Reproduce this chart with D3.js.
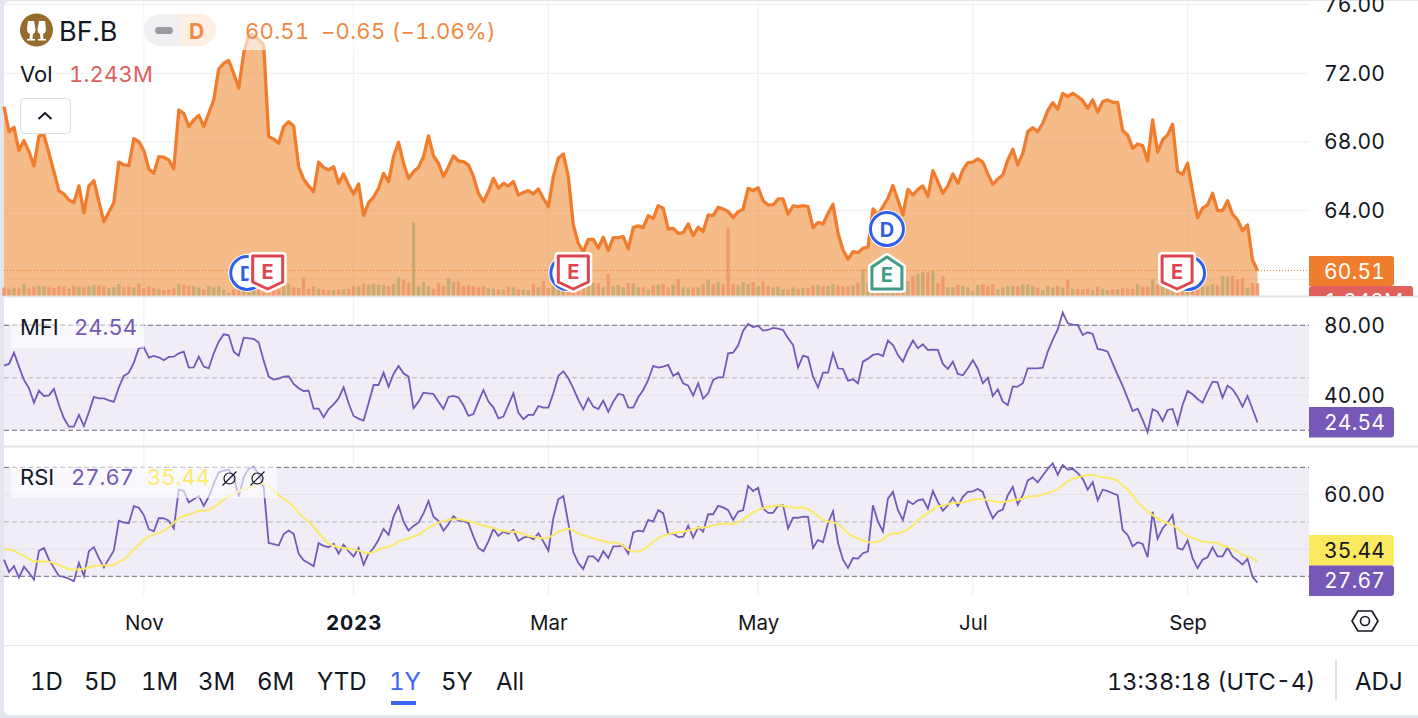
<!DOCTYPE html>
<html>
<head>
<meta charset="utf-8">
<script src="https://cdn.jsdelivr.net/npm/d3@7"></script>
<style>
  html, body { margin: 0; background: #fff; }
  svg { display: block; font-family: Inter, sans-serif; font-variant-numeric: tabular-nums; font-feature-settings: "tnum"; color: #131722; }
  .domain { display: none; }
</style>
</head>
<body>
<div id="chart"></div>
<script>
const closes = [
  70.06,68.60,68.85,67.50,68.08,67.44,66.60,68.35,68.41,67.34,
  66.27,65.15,64.97,64.62,64.47,65.44,63.88,65.44,65.75,64.52,
  63.36,63.90,64.47,66.83,66.66,66.62,68.19,68.02,67.50,66.43,
  66.17,67.15,67.11,66.95,66.43,69.86,69.67,68.89,69.28,69.55,
  68.89,69.67,70.45,72.25,72.58,72.74,72.00,71.13,73.17,74.23,
  74.23,73.94,73.65,68.31,68.17,67.92,68.89,69.18,68.93,66.56,
  65.83,65.44,65.09,66.82,66.52,66.37,66.56,65.59,66.14,65.50,
  64.97,65.55,63.71,64.47,64.78,65.30,66.17,65.69,67.15,67.98,
  66.76,65.88,66.27,66.52,67.15,68.35,67.18,66.76,65.98,66.56,
  67.18,66.89,66.85,66.66,65.98,65.01,64.52,65.11,65.88,65.30,
  65.59,65.44,65.69,64.91,65.05,65.17,64.97,65.26,64.72,64.23,
  65.98,67.05,67.30,65.98,63.17,62.10,61.61,62.33,62.33,61.81,
  62.45,61.67,62.43,62.43,62.49,61.77,63.01,63.11,63.01,63.71,
  63.55,64.29,64.14,62.93,62.97,62.68,62.72,63.22,62.54,63.03,
  62.78,63.75,63.71,64.19,64.10,63.94,63.59,63.94,64.08,65.30,
  65.17,65.34,64.58,64.33,64.33,64.68,64.68,63.79,64.27,64.23,
  64.29,64.23,63.01,63.32,63.22,63.84,64.37,62.68,61.71,61.17,
  61.61,61.55,61.81,61.86,64.10,63.75,64.23,64.72,65.46,64.62,
  63.75,65.24,64.91,65.24,65.44,64.82,66.33,65.69,65.01,65.44,
  66.14,65.59,66.37,66.80,66.82,67.01,
  66.82,66.14,65.53,65.84,66.08,66.95,67.57,66.66,67.34,68.60,
  68.83,68.60,69.09,69.83,70.29,69.90,70.83,70.64,70.83,70.64,
  70.41,69.96,70.45,69.73,70.35,70.45,70.31,70.31,68.66,68.41,
  67.63,67.88,67.79,66.89,69.28,67.40,68.12,68.41,69.03,66.27,
  66.12,66.76,65.11,63.59,64.14,64.33,65.01,64.00,64.00,64.58,
  63.79,63.46,62.83,63.17,61.13,60.51
];

const volumes = [
  .82,.72,.82,.72,1.18,.72,.92,.98,.98,.85,
  .78,.98,.92,.72,.98,.92,.85,.98,1.05,1.05,
  .92,.78,.85,1.18,.85,.92,.85,1.24,.72,.92,
  .78,.72,.59,.65,.78,1.18,1.11,.98,.98,.85,
  .65,.98,.85,.98,.65,.33,.65,.82,.72,.65,
  .65,.72,.72,.98,.98,.65,.98,1.18,.85,.78,
  1.83,.72,.98,.72,.65,.59,.59,.65,.65,.72,
  .98,.98,1.24,1.11,1.18,1.11,1.05,.98,1.18,1.83,
  1.57,1.31,7.19,.98,1.37,.98,.72,1.24,.98,1.77,
  1.37,1.44,.98,1.05,.98,.85,.98,.78,.72,.65,
  .65,.92,.85,.65,.65,.59,1.18,.85,1.47,.78,
  .98,.85,.85,.72,.72,.85,.98,1.18,1.31,1.24,
  .85,2.16,.98,1.05,.85,1.24,1.24,.85,.85,.65,
  1.05,1.11,1.18,.85,1.11,1.64,.85,.72,.85,.85,
  1.18,1.57,1.18,1.37,1.18,6.70,1.18,1.05,1.37,1.18,
  1.37,.98,1.44,.98,.82,.92,.65,.65,.85,.72,
  .78,.78,1.05,1.05,.98,.98,1.18,1.05,.92,.92,
  1.05,1.31,2.62,1.31,.98,.98,.82,.72,.65,.65,
  .92,1.47,1.96,2.16,2.35,2.29,2.49,1.24,1.96,.85,
  .85,1.11,.98,.85,.46,1.05,
  1.14,.98,1.14,.65,.82,.98,.98,.98,1.14,1.14,
  .98,.82,.59,.98,.82,.98,.82,1.57,.72,.72,
  .65,.72,.59,.92,.72,.59,.65,.65,.78,.72,
  .72,1.18,.92,.92,1.64,1.14,.98,.82,.72,.65,
  .82,.92,.85,.85,.92,.98,1.14,1.05,1.96,1.90,
  1.96,1.64,1.77,.82,1.24,1.243
];

const mfi = [
  56.95,57.90,64.38,56.38,48.76,44.00,35.81,42.67,39.62,40.00,
  43.62,34.48,26.86,22.10,22.10,28.76,22.48,30.29,39.05,38.29,
  38.29,37.14,36.19,44.57,51.05,52.95,58.67,66.86,67.43,61.52,
  62.48,61.71,60.00,61.90,62.10,64.00,64.95,55.81,56.00,62.10,
  56.38,55.43,64.00,70.67,74.86,74.29,64.95,62.67,72.95,72.57,
  72.19,70.10,59.81,50.67,48.95,49.52,50.67,50.86,46.48,44.00,
  42.48,42.67,32.38,32.38,27.43,32.19,34.86,38.29,44.57,35.43,
  28.19,26.67,25.52,35.43,45.90,45.90,52.95,44.95,52.19,56.76,
  52.57,50.67,32.57,36.38,41.52,41.14,40.76,36.38,32.19,39.05,
  39.62,38.67,34.29,28.19,29.33,36.38,43.05,36.38,33.14,26.86,
  27.81,34.48,41.14,30.10,26.29,28.76,28.76,33.90,32.95,32.95,
  41.14,51.05,53.71,49.71,44.00,37.33,32.00,38.29,33.52,32.19,
  36.95,30.48,36.38,40.76,40.19,32.95,32.95,38.86,43.05,48.76,
  56.76,55.81,56.38,57.33,51.05,52.95,46.86,45.52,39.81,46.86,
  38.10,41.14,48.76,50.29,50.29,64.00,64.38,68.38,76.95,80.76,
  79.05,79.62,76.95,77.33,78.48,78.10,77.33,72.57,68.76,55.81,
  62.67,61.71,50.67,44.57,52.95,52.95,64.00,55.43,55.05,48.38,
  49.14,46.86,59.24,60.95,63.05,63.62,62.48,71.24,68.76,63.05,
  59.24,65.90,71.24,66.86,69.14,65.90,66.10,65.90,57.90,55.05,
  59.24,52.19,51.43,55.43,60.19,55.05,46.86,50.10,39.62,43.43,
  36.38,34.48,44.95,44.95,46.86,55.43,55.43,55.43,55.81,64.95,
  71.62,77.71,87.24,81.14,80.38,80.19,74.48,76.00,75.05,66.48,
  65.90,64.95,58.29,51.62,45.33,38.29,31.05,32.38,25.90,18.86,
  32.00,30.67,25.33,31.62,32.19,23.43,34.48,42.48,40.57,37.90,
  35.81,42.10,47.81,47.43,38.67,45.52,43.43,39.24,33.52,39.62,
  32.19,24.54
];

const rsi = [
  36.1,31.6,33.7,29.5,33.5,31.3,28.8,39.4,40.4,36.1,
  33.1,30.1,29.8,29.1,28.2,34.9,30.1,39.2,40.7,36.7,
  33.3,36.4,39.5,50.4,49.7,49.5,55.8,55.2,52.5,47.3,
  46.5,51.4,51.3,50.4,47.6,61.9,61.3,57.1,58.3,59.5,
  55.9,59.2,64.0,68.2,68.8,69.2,66.4,59.2,66.4,69.5,
  70.1,67.6,62.8,42.2,41.8,41.3,45.5,46.8,45.6,38.3,
  35.9,34.9,33.7,42.2,41.2,40.7,41.9,38.3,41.6,39.2,
  37.3,40.4,34.3,38.3,40.4,43.4,47.4,45.2,51.9,55.9,
  50.1,46.8,48.5,49.7,53.1,57.6,51.9,50.4,46.7,49.1,
  52.1,50.4,50.4,49.5,44.6,40.4,39.2,42.8,47.4,44.8,
  46.4,45.6,47.0,43.0,44.2,44.6,43.6,45.8,42.8,39.4,
  51.3,58.3,59.5,49.5,38.9,34.9,32.7,37.3,37.3,35.5,
  39.2,36.7,41.0,41.0,41.3,38.3,46.1,46.8,46.5,50.7,
  50.1,54.3,53.1,45.6,45.7,44.4,44.6,48.6,44.2,48.0,
  46.4,52.8,52.8,55.9,55.3,54.3,50.7,53.7,54.3,63.2,
  61.3,62.5,54.9,53.3,53.3,55.9,56.1,47.6,51.5,51.5,
  51.9,51.8,40.4,43.4,42.5,49.5,53.9,42.2,36.1,33.1,
  36.7,36.5,38.5,39.2,56.1,50.1,46.4,58.5,61.0,54.3,
  50.7,57.7,56.5,57.9,58.3,54.9,61.3,57.3,54.1,56.1,
  58.9,55.8,59.2,61.0,61.2,62.1,61.0,55.5,51.3,53.7,
  54.5,59.8,62.8,56.4,59.8,65.2,66.3,64.5,67.0,69.5,
  71.5,67.3,70.9,69.2,69.5,67.9,65.8,61.8,64.6,57.9,
  61.8,61.3,60.5,59.8,47.0,45.2,41.0,42.5,41.9,37.0,
  53.7,43.8,47.6,49.7,52.5,40.4,39.8,43.2,36.7,33.0,
  36.1,37.0,40.6,37.3,37.3,40.6,37.3,35.9,34.3,36.4,
  29.8,27.67
];

const rsiMa = [
  39.8,39.8,39.5,38.3,37.6,36.4,35.4,35.5,35.4,35.3,
  34.9,34.1,33.3,32.7,32.5,32.5,32.7,33.3,33.7,33.9,
  34.1,34.1,34.1,35.3,36.1,37.9,39.8,41.6,43.4,44.6,
  45.2,46.1,46.7,48.0,49.7,51.3,52.2,52.6,53.3,54.1,
  54.1,54.3,55.3,56.7,58.2,59.4,60.1,61.3,62.1,62.5,
  63.3,64.0,64.2,63.0,61.6,59.8,58.5,57.3,55.5,53.5,
  51.6,50.1,48.2,46.1,43.8,41.9,41.2,40.7,40.4,40.0,
  39.8,39.5,38.8,38.5,38.9,39.8,40.5,40.7,41.6,42.8,
  43.4,43.9,44.6,45.2,46.4,47.9,48.8,49.7,50.3,50.7,
  51.0,51.0,50.7,50.3,49.8,49.2,
  48.7,48.2,47.8,47.0,46.7,46.4,46.4,46.2,45.5,44.8,
  44.5,44.2,44.0,44.1,45.2,46.3,47.0,47.5,46.8,45.8,
  45.0,44.5,43.9,43.4,42.9,42.4,42.4,42.2,41.2,39.8,
  39.2,39.0,39.8,41.0,42.8,44.0,44.8,45.5,45.8,46.2,
  46.4,46.7,47.3,47.8,47.9,48.2,48.8,49.1,49.3,49.3,
  49.2,49.8,50.9,52.2,53.5,54.3,55.0,55.4,55.8,56.1,
  55.9,55.4,55.3,55.2,55.2,54.7,53.5,52.1,50.7,50.1,
  49.9,49.2,47.6,45.8,44.6,43.9,43.2,42.5,42.5,42.8,
  43.4,45.1,45.8,45.8,46.3,47.3,48.6,50.7,51.9,53.1,
  54.5,55.8,55.9,56.5,57.0,57.0,
  57.1,57.6,58.2,58.4,58.5,57.9,57.7,57.3,57.2,57.6,
  57.9,58.2,58.5,59.2,59.4,59.5,60.0,60.6,61.2,61.9,
  63.4,64.8,65.8,66.4,66.8,67.2,67.3,66.7,66.4,66.2,
  65.8,65.1,63.4,61.9,59.8,57.3,55.5,53.7,52.5,51.3,
  50.3,49.5,48.8,47.6,45.8,44.8,44.1,43.4,42.8,42.5,
  42.4,42.3,41.2,40.8,40.0,39.2,37.9,37.3,36.5,35.44
];

// tick labels and the day index each one sits on
const monthIndex = [28, 70, 109, 151, 194, 237];
const monthLabels = ["Nov", "2023", "Mar", "May", "Jul", "Sep"];
const priceTicks = [64, 68, 72, 76];
const mfiTicks = [40, 80];
const rsiTicks = [40, 60];
const rangeLabels = ["1D", "5D", "1M", "3M", "6M", "YTD", "1Y", "5Y", "All"];

// earnings and dividend flags, day index
const dividendDays = [48.7, 112.8, 176.8, 237.1];
const earningsDays = [52.8, 114, 234.9];
const earningsUpDay = 176.8;

const width = 1418;
const height = 718;
const plotLeft = 4;
const plotRight = 1309;
const orange = "#f07d2e";
const purple = "#7558b8";
const ink = "#131722";
const gridColor = "#eeeff3";

const x = d3.scaleLinear([0, closes.length - 1], [plotLeft, 1257.5]);
const yPrice = d3.scaleLinear([60, 76], [279.3, 4.6]);
const yVolume = d3.scaleLinear([0, 7.19], [296, 222.5]);
const yMfi = d3.scaleLinear([20, 80], [430.3, 325.3]);
const yRsi = d3.scaleLinear([30, 70], [576.3, 467.4]);

const svg = d3.select("#chart").append("svg")
    .attr("width", width)
    .attr("height", height)
    .attr("viewBox", [0, 0, width, height]);

// frame around the widget
svg.append("rect").attr("width", width).attr("height", height).attr("fill", "#e3e6ef");
svg.append("rect").attr("x", plotLeft).attr("y", 1).attr("width", width).attr("height", 714).attr("rx", 6).attr("fill", "#fff");

// vertical grid goes through all three panes
svg.append("g").selectAll("line").data(monthIndex).join("line")
    .attr("x1", d => x(d)).attr("x2", d => x(d))
    .attr("y1", 1).attr("y2", 596)
    .attr("stroke", gridColor);

svg.append("g").selectAll("line").data(priceTicks.concat(60)).join("line")
    .attr("x1", plotLeft).attr("x2", plotRight)
    .attr("y1", d => yPrice(d)).attr("y2", d => yPrice(d))
    .attr("stroke", gridColor);

// price pane
const area = d3.area().x((d, i) => x(i)).y0(296).y1(d => yPrice(d));
const line = d3.line().x((d, i) => x(i)).y(d => yPrice(d));

svg.append("path").attr("d", area(closes)).attr("fill", "#ee862c").attr("fill-opacity", 0.56);

svg.append("g").selectAll("rect").data(volumes).join("rect")
    .attr("x", (d, i) => x(i) - 1.7)
    .attr("width", 3.4)
    .attr("y", d => yVolume(d))
    .attr("height", d => yVolume(0) - yVolume(d))
    .attr("fill", (d, i) => i > 0 && closes[i] >= closes[i - 1] ? "#c8aa74" : "#ef9a6c");

svg.append("path").attr("d", line(closes)).attr("fill", "none").attr("stroke", orange)
    .attr("stroke-width", 3.3).attr("stroke-linejoin", "round");

svg.append("line")
    .attr("x1", plotLeft).attr("x2", plotRight)
    .attr("y1", yPrice(closes[closes.length - 1])).attr("y2", yPrice(closes[closes.length - 1]))
    .attr("stroke", orange).attr("stroke-dasharray", "1 2");

// header sits on a see-through strip, the peak shows through it
svg.append("rect").attr("x", 11).attr("y", 13).attr("width", 490).attr("height", 37).attr("fill", "#fff").attr("fill-opacity", 0.62);

function oscillatorPane(y, top, mid, bottom, grid) {
  svg.append("rect")
      .attr("x", plotLeft).attr("width", plotRight - plotLeft)
      .attr("y", y(top)).attr("height", y(bottom) - y(top))
      .attr("fill", "#f0edf7");
  svg.append("g").selectAll("line").data(grid).join("line")
      .attr("x1", plotLeft).attr("x2", plotRight)
      .attr("y1", d => y(d)).attr("y2", d => y(d))
      .attr("stroke", "#e4e1ec");
  svg.append("g").selectAll("line").data([top, mid, bottom]).join("line")
      .attr("x1", plotLeft).attr("x2", plotRight)
      .attr("y1", d => y(d)).attr("y2", d => y(d))
      .attr("stroke", d => d === mid ? "#b4b1bd" : "#6f6c7a")
      .attr("stroke-dasharray", "5 3");
}

oscillatorPane(yMfi, 80, 50, 20, mfiTicks);
oscillatorPane(yRsi, 70, 50, 30, rsiTicks);

svg.append("path").attr("fill", "none").attr("stroke", purple).attr("stroke-width", 1.8)
    .attr("d", d3.line().x((d, i) => x(i)).y(d => yMfi(d))(mfi));
svg.append("path").attr("fill", "none").attr("stroke", purple).attr("stroke-width", 1.8)
    .attr("d", d3.line().x((d, i) => x(i)).y(d => yRsi(d))(rsi));
svg.append("path").attr("fill", "none").attr("stroke", "#fbe968").attr("stroke-width", 2)
    .attr("d", d3.line().x((d, i) => x(i)).y(d => yRsi(d))(rsiMa));

// pane separators
for (const sepY of [296.5, 446.5]) {
  svg.append("rect").attr("x", plotLeft).attr("y", sepY - 1).attr("width", width).attr("height", 2).attr("fill", "#e0e3e8");
}
svg.append("rect").attr("x", plotLeft).attr("y", 645).attr("width", width).attr("height", 1).attr("fill", "#e3e5e8");

// flags
function dividendFlag(d, cy) {
  const g = svg.append("g").attr("transform", `translate(${x(d)},${cy})`);
  g.append("circle").attr("r", 19).attr("fill", "#fff");
  g.append("circle").attr("r", 16.5).attr("fill", "#fff").attr("stroke", "#2f5fe8").attr("stroke-width", 3);
  g.append("text").attr("text-anchor", "middle").attr("y", 7.5).attr("font-size", 20).attr("font-weight", 700).attr("fill", "#2f5fe8").text("D");
}

function earningsFlag(d, cy, pointsUp) {
  const g = svg.append("g").attr("transform", `translate(${x(d)},${cy})`);
  const shape = pointsUp ? "M0,-16L15,-6V16H-15V-6Z" : "M-15,-16H15V10L0,17L-15,10Z";
  const color = pointsUp ? "#3f9c86" : "#e0454f";
  g.append("path").attr("d", shape).attr("fill", "#fff").attr("stroke", "#fff").attr("stroke-width", 8).attr("stroke-linejoin", "round");
  g.append("path").attr("d", shape).attr("fill", "#fff").attr("stroke", color).attr("stroke-width", 3).attr("stroke-linejoin", "round");
  g.append("text").attr("text-anchor", "middle").attr("y", pointsUp ? 9 : 7).attr("font-size", 20).attr("font-weight", 700).attr("fill", color).text("E");
}

dividendDays.forEach(d => dividendFlag(d, d === 176.8 ? 229 : 273));
earningsDays.forEach(d => earningsFlag(d, 272, false));
earningsFlag(earningsUpDay, 273, true);

// value axes, axis groups otherwise force their own font
function valueAxis(y, ticks) {
  svg.append("g")
      .attr("transform", "translate(1324,0)")
      .call(d3.axisRight(y).tickValues(ticks).tickSize(0).tickPadding(0).tickFormat(d3.format(".2f")))
      .attr("font-family", null)
      .call(g => g.selectAll("text").attr("font-size", 21).attr("letter-spacing", 0.2).attr("fill", ink));
}
valueAxis(yPrice, priceTicks);
valueAxis(yMfi, mfiTicks);
valueAxis(yRsi, rsiTicks.slice(1));

// last value tags
function valueTag(top, h, w, fill, color, text) {
  svg.append("path")
      .attr("d", `M1309,${top}H${1309 + w - 3}q3,0 3,3V${top + h - 3}q0,3 -3,3H1309Z`)
      .attr("fill", fill);
  svg.append("text").attr("x", 1324).attr("y", top + h / 2 + 7.5)
      .attr("font-size", 21).attr("letter-spacing", 0.2).attr("fill", color).text(text);
}
// volume tag is cut by the pane below it
svg.append("clipPath").attr("id", "priceClip").append("rect").attr("width", width).attr("height", 296);
const volumeTag = svg.append("g").attr("clip-path", "url(#priceClip)");
volumeTag.append("rect").attr("x", 1309).attr("y", 286).attr("width", 104).attr("height", 30).attr("rx", 3).attr("fill", "#e0605c");
volumeTag.append("text").attr("x", 1324).attr("y", 309).attr("font-size", 21).attr("fill", "#fff").text("1.243M");
valueTag(256, 30, 85, "#f07d2e", "#fff", "60.51");
valueTag(407, 30.5, 85, purple, "#fff", "24.54");
valueTag(535, 30.5, 85, "#fbe95f", ink, "35.44");
valueTag(565.5, 30.5, 85, purple, "#fff", "27.67");

// time axis
svg.append("g")
    .attr("transform", "translate(0,612)")
    .call(d3.axisBottom(x).tickValues(monthIndex).tickSize(0).tickPadding(3).tickFormat((d, i) => monthLabels[i]))
    .attr("font-family", null)
    .call(g => g.selectAll("text")
        .attr("font-size", 20.5).attr("fill", ink)
        .attr("font-weight", (d, i) => monthLabels[i] === "2023" ? 700 : 400)
        .attr("letter-spacing", (d, i) => monthLabels[i] === "2023" ? 0.8 : 0));

// settings hexagon
const hex = svg.append("g").attr("transform", "translate(1365,621)").attr("fill", "none").attr("stroke", ink).attr("stroke-width", 1.6);
hex.append("path").attr("d", "M-13,0L-7,-10H7L13,0L7,10H-7Z").attr("stroke-linejoin", "round");
hex.append("circle").attr("r", 4.5);

// header
function label(px, py, size, color, text, weight) {
  return svg.append("text").attr("x", px).attr("y", py).attr("font-size", size)
      .attr("fill", color).attr("font-weight", weight || 400).text(text);
}

svg.append("circle").attr("cx", 36.5).attr("cy", 30).attr("r", 16.5).attr("fill", "#966c2e");
svg.append("path").attr("fill", "#fff")
    .attr("d", "M28,21h6l1.5,8q0,4 -2.5,5l-.5,5h2.5v1.5h-8V39h2.5l.5,-5q-3,-1 -3,-5ZM39,21h6l1,8q0,4 -3,5l.5,5h2.5v1.5h-8V39h2.5l-.5,-5q-2.5,-1 -2.5,-5Z");
label(59, 41, 27, ink, "BF.B");

svg.append("path").attr("d", "M180,14H160a16,16 0 0 0 0,32H180Z").attr("fill", "#f0f0f2");
svg.append("path").attr("d", "M180,14H200a16,16 0 0 1 0,32H180Z").attr("fill", "#fdf0e2");
svg.append("rect").attr("x", 155).attr("y", 27).attr("width", 18).attr("height", 7).attr("rx", 3.5).attr("fill", "#9a9ca3");
label(189, 38.5, 21, "#f08a42", "D", 700);
label(245, 39, 22, "#f08a42", "60.51").attr("letter-spacing", 0.3);
label(321, 39, 22, "#f08a42", "\u22120.65 (\u22121.06%)").attr("letter-spacing", 0.3);

label(20, 82, 22, ink, "Vol");
label(69, 82, 22, "#df5f5f", "1.243M").attr("letter-spacing", 0.2);

svg.append("rect").attr("x", 20.5).attr("y", 98.5).attr("width", 50).attr("height", 35).attr("rx", 4).attr("fill", "#fff").attr("stroke", "#dcdee3");
svg.append("path").attr("d", "M38.5,119L45,113L51.5,119").attr("fill", "none").attr("stroke", ink).attr("stroke-width", 2);

// pane legends
svg.append("rect").attr("x", 11).attr("y", 325).attr("width", 133).attr("height", 23).attr("fill", "#fff").attr("fill-opacity", 0.6);
label(20, 335, 22, ink, "MFI");
label(74, 335, 22, purple, "24.54");

svg.append("rect").attr("x", 11).attr("y", 467).attr("width", 266).attr("height", 31).attr("fill", "#fff").attr("fill-opacity", 0.6);
label(20, 485, 22, ink, "RSI");
label(71, 485, 22, purple, "27.67");
label(147, 485, 22, "#fdea6c", "35.44");
for (const cx of [229.5, 257.5]) {
  const off = svg.append("g").attr("transform", `translate(${cx},478.5)`).attr("fill", "none").attr("stroke", ink).attr("stroke-width", 1.2);
  off.append("circle").attr("r", 5.5);
  off.append("line").attr("x1", -7).attr("x2", 7).attr("y1", 7).attr("y2", -7);
}

// range row
const rangeX = { "1D": 30, "5D": 84, "1M": 141, "3M": 198, "6M": 257, "YTD": 317, "1Y": 389, "5Y": 441, "All": 496 };
svg.append("g").selectAll("text").data(rangeLabels).join("text")
    .attr("x", d => rangeX[d])
    .attr("y", 690)
    .attr("font-size", 24)
    .attr("fill", d => d === "1Y" ? "#3b64f0" : ink)
    .text(d => d);
svg.append("rect").attr("x", 391).attr("y", 701).attr("width", 25).attr("height", 4).attr("fill", "#3b64f0");

label(1107, 690, 23.5, ink, "13:38:18 (UTC-4)");
svg.append("rect").attr("x", 1335).attr("y", 660).attr("width", 2).attr("height", 41).attr("fill", "#e0e3e8");
label(1355, 690, 24, ink, "ADJ");
</script>
</body>
</html>
